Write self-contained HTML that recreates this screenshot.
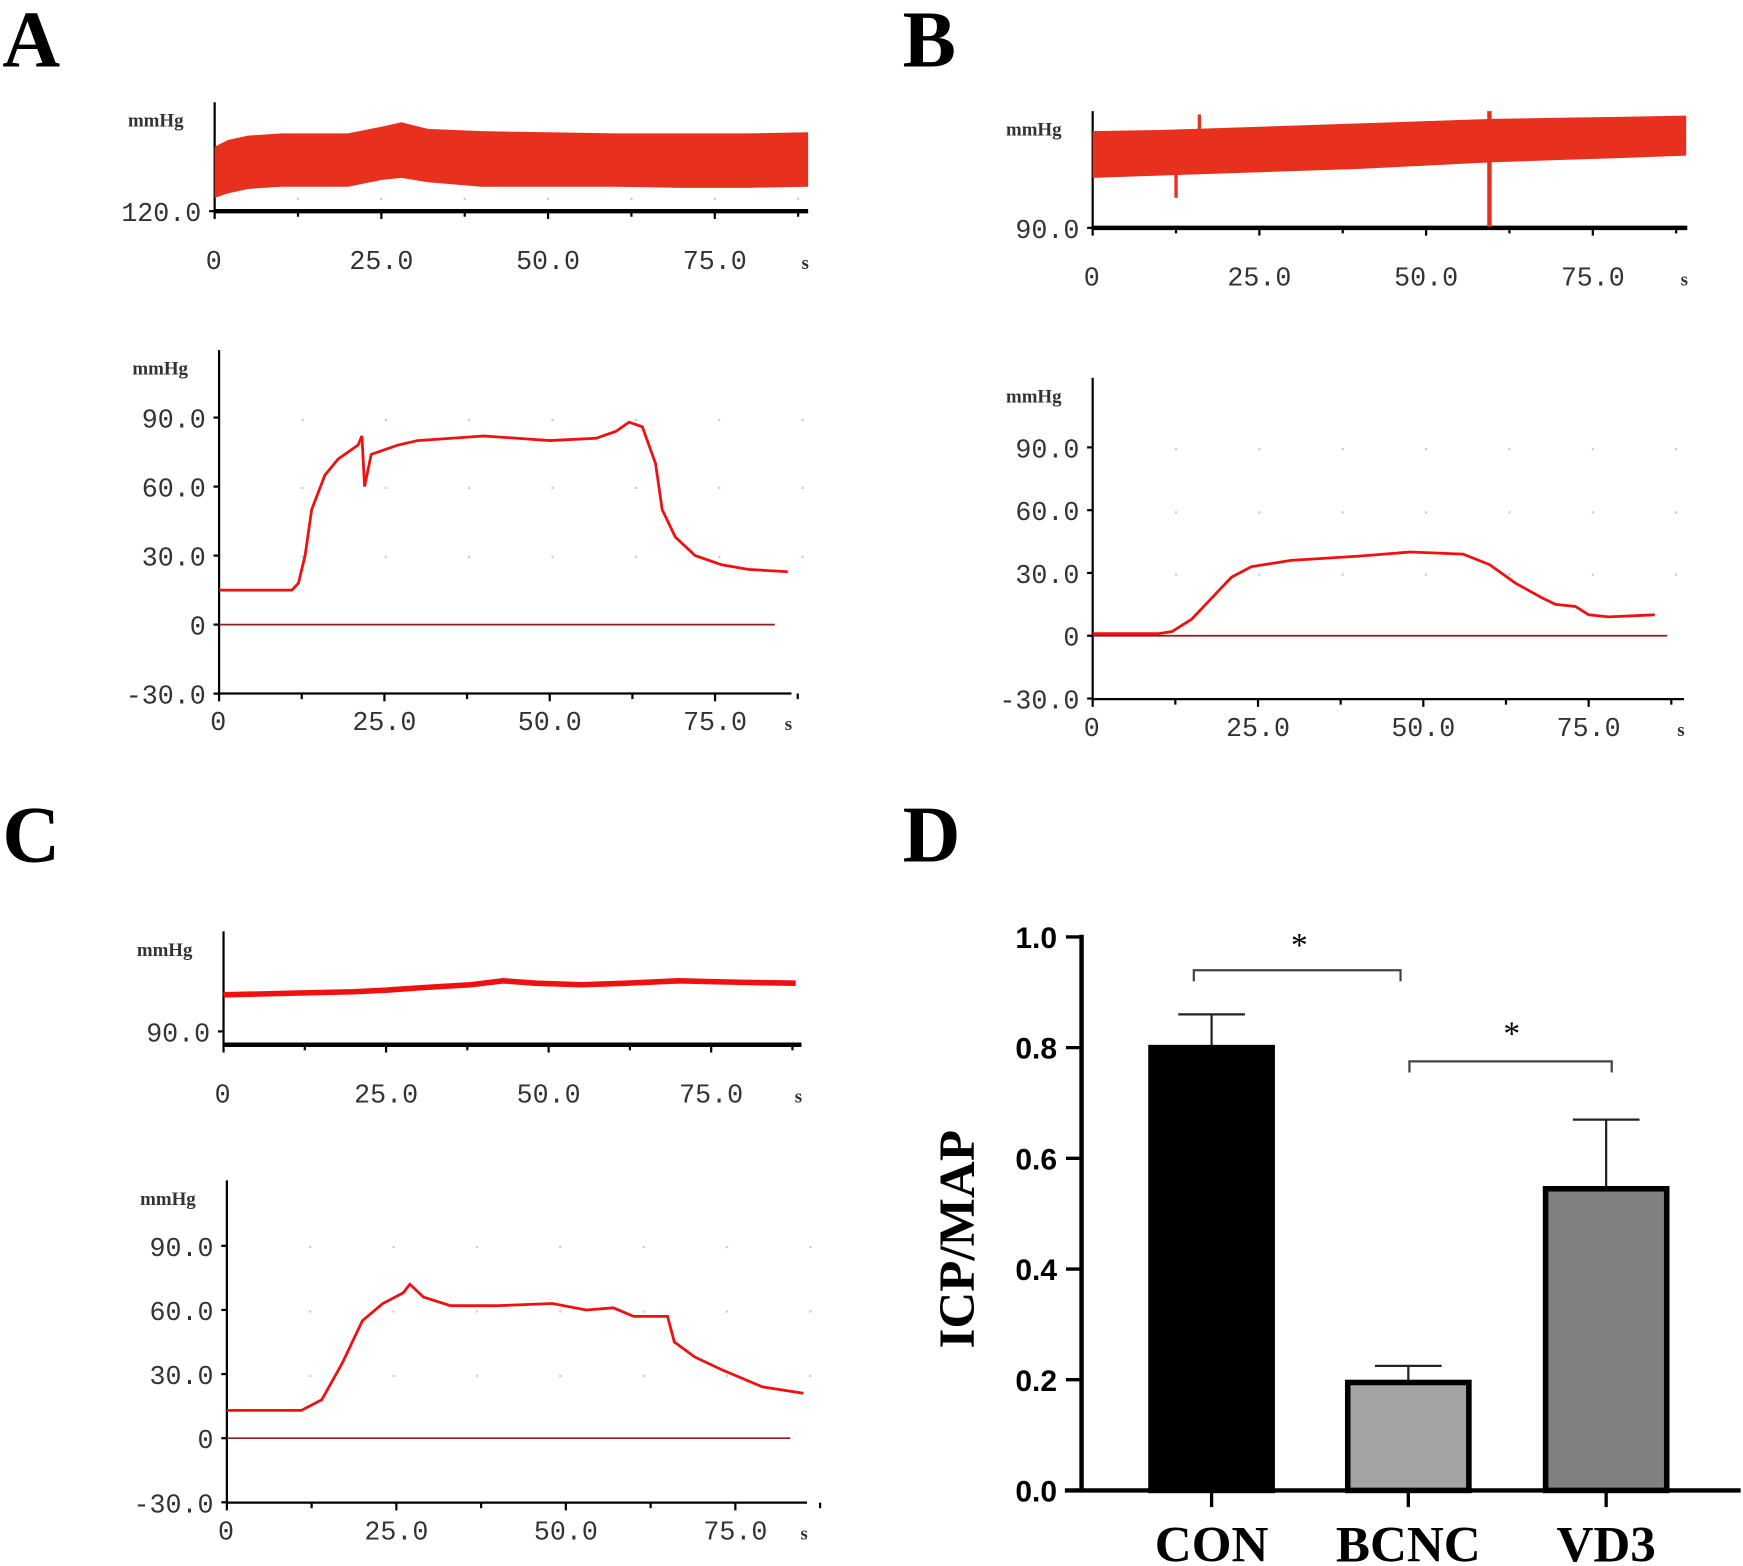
<!DOCTYPE html>
<html><head><meta charset="utf-8"><style>
html,body{margin:0;padding:0;background:#fff}
svg{display:block}
.tk{font-family:"Liberation Mono","Noto Sans CJK SC",monospace;font-size:24px;fill:#333}
.un{font-family:"Liberation Serif",serif;font-size:17px;font-weight:bold;fill:#333}
.pl{font-family:"Liberation Serif",serif;font-size:72px;font-weight:bold;fill:#000}
.db{font-family:"Liberation Sans",sans-serif;font-size:27px;font-weight:bold;fill:#000}
.dx{font-family:"Liberation Serif",serif;font-size:46px;font-weight:bold;fill:#000}
</style></head><body>
<svg id="fig" width="1743" height="1566" viewBox="0 0 1568 1409" xmlns="http://www.w3.org/2000/svg">
<text class="pl" x="2" y="60">A</text>
<text class="pl" x="812" y="60">B</text>
<text class="pl" x="2" y="775">C</text>
<text class="pl" x="812" y="775">D</text>
<g id="layer"></g>
</svg>
<script>
// ---- trace data (time s, mmHg) ----
var aTopT=[0,2,5,10,20,25,28,32,40,50,60,70,80,89];
var aTopHi=[178,184,188,190,190,196,200,194,192,191,190,190,190,191];
var aTopLo=[132,136,140,142,142,148,150,146,142,142,142,141,141,142];
var aBotT=[0,11,12,13,14,16,18,21,21.6,22,23,27,30,40,50,57,60,62,64,66,67,69,72,76,80,86];
var aBotV=[15,15,18,30,50,65,72,78,82,60,74,78,80,82,80,81,84,88,86,70,50,38,30,26,24,23];
var bTopT=[0,10,20,30,40,50,60,70,80,89];
var bTopHi=[177,178,180,182,184,186,188,189,190,191];
var bTopLo=[135,137,139,141,143,146,149,151,153,155];
var bBotT=[0,10,12,15,18,21,24,30,40,48,56,60,64,68,70,73,75,78,85];
var bBotV=[1,1,2,8,18,28,33,36,38,40,39,34,25,18,15,14,10,9,10];
var cTopT=[0,10,20,25,30,38,43,48,55,62,70,75,80,88];
var cTopV=[137,139,141,143,146,150,155,152,150,152,155,154,153,152];
var cBotT=[0,11,14,17,20,23,26,27,29,33,40,48,53,57,60,65,66,69,73,79,85];
var cBotV=[13,13,18,35,55,63,68,72,66,62,62,63,60,61,57,57,45,38,32,24,21];
// ---- bar chart data ----
var dCats=["CON","BCNC","VD3"];
var dVals=[0.80,0.195,0.545];
var dErr=[0.06,0.03,0.125];
var dTicks=[0,0.2,0.4,0.6,0.8,1.0];
var dTickLabels=["0.0","0.2","0.4","0.6","0.8","1.0"];

var NS="http://www.w3.org/2000/svg", L=document.getElementById('layer');
function mk(tag,at,parent){var e=document.createElementNS(NS,tag);for(var k in at)e.setAttribute(k,at[k]);(parent||L).appendChild(e);return e;}
function txt(s,x,y,cls,anchor){var e=mk('text',{x:x,y:y,'class':cls,'text-anchor':anchor||'start'});e.textContent=s;return e;}

function panel(o){
  var sx=function(t){return o.x0+(t)*o.pxs;};
  var sy=function(v){return o.y0-(v-o.v0)*o.pyv;};
  var g=mk('g',{});
  
  
  for(var i=1;i<=7;i++)for(var j=0;j<o.gridRows.length;j++){
    mk('rect',{x:o.x0+i*75-1,y:o.gridRows[j],width:2,height:2,fill:'#ccc'},g);
  }
  var ya=mk('line',{x1:o.x0,y1:o.yTop,x2:o.x0,y2:o.yBot,stroke:'#000','stroke-width':2},g);
  
  var xa=mk('line',{x1:o.x0,y1:o.yBot,x2:o.x1,y2:o.yBot,stroke:'#000','stroke-width':o.top?4:2},g);
  
  for(var t=0;t<=87.5;t+=12.5){mk('line',{x1:sx(t),y1:o.yBot,x2:sx(t),y2:o.yBot+(t%25==0?7:5),stroke:'#000','stroke-width':2},g);}
  var xl=["0","25.0","50.0","75.0"];
  for(var k=0;k<4;k++){var e=txt(xl[k],sx(k*25)-(k==0?8:0),o.yBot+(o.top?52:33),'tk',k==0?'start':'middle');}
  txt('s',o.x1-6,o.yBot+(o.top?52:33),'un');
  var u=txt('mmHg',o.x0-78,o.yTop+22,'un');
  for(var k=0;k<o.yTicks.length;k++){var yy=sy(o.yTicks[k]);
    mk('line',{x1:o.x0-5,y1:yy,x2:o.x0,y2:yy,stroke:'#000','stroke-width':2},g);
    var e=txt(o.yLabels[k],o.x0-12,yy+9,'tk','end');}
  if(o.zero){var z=mk('line',{x1:o.x0,y1:sy(0),x2:o.x1-15,y2:sy(0),stroke:'#8b2020','stroke-width':1.5},g);}
  if(o.hi){
    var pts=[];for(var i=0;i<o.T.length;i++)pts.push(sx(o.T[i])+','+sy(o.hi[i]));
    for(var i=o.T.length-1;i>=0;i--)pts.push(sx(o.T[i])+','+sy(o.lo[i]));
    var p=mk('polygon',{points:pts.join(' '),fill:'#e8301f'},g);
    
  } else {
    var pts=[];for(var i=0;i<o.T.length;i++)pts.push(sx(o.T[i])+','+sy(o.V[i]));
    var p=mk('polyline',{points:pts.join(' '),fill:'none',stroke:'#f01010','stroke-width':o.top?5:2.5},g);
    
  }
  return {sx:sx,sy:sy,g:g};
}
panel({name:'panel-a-map',top:1,x0:193,x1:727,pxs:6,yTop:92,yBot:190,y0:190,v0:120,pyv:1,yTicks:[120],yLabels:['120.0'],gridRows:[178],T:aTopT,hi:aTopHi,lo:aTopLo});
panel({name:'panel-a-icp',x0:197,x1:712,pxs:5.95,yTop:315,yBot:624,y0:562,v0:0,pyv:2.07,yTicks:[90,60,30,0,-30],yLabels:['90.0','60.0','30.0','0','-30.0'],gridRows:[377,438,500],zero:1,T:aBotT,V:aBotV});
var pb=panel({name:'panel-b-map',top:1,x0:983,x1:1518,pxs:6,yTop:100,yBot:205,y0:205,v0:90,pyv:1,yTicks:[90],yLabels:['90.0'],gridRows:[],T:bTopT,hi:bTopHi,lo:bTopLo});
mk('line',{x1:pb.sx(12.5),y1:150,x2:pb.sx(12.5),y2:178,stroke:'#e8301f','stroke-width':3},pb.g);
mk('line',{x1:pb.sx(16),y1:103,x2:pb.sx(16),y2:140,stroke:'#e8301f','stroke-width':3},pb.g);
mk('line',{x1:pb.sx(59.5),y1:100,x2:pb.sx(59.5),y2:204,stroke:'#e8301f','stroke-width':4},pb.g);
panel({name:'panel-b-icp',x0:983,x1:1515,pxs:5.95,yTop:340,yBot:629,y0:572,v0:0,pyv:1.883,yTicks:[90,60,30,0,-30],yLabels:['90.0','60.0','30.0','0','-30.0'],gridRows:[403,460,516],zero:1,T:bBotT,V:bBotV});
panel({name:'panel-c-map',top:1,x0:201,x1:721,pxs:5.85,yTop:838,yBot:940,y0:928,v0:90,pyv:0.7,yTicks:[90],yLabels:['90.0'],gridRows:[],T:cTopT,V:cTopV});
panel({name:'panel-c-icp',x0:204,x1:726,pxs:6.1,yTop:1062,yBot:1352,y0:1294,v0:0,pyv:1.923,yTicks:[90,60,30,0,-30],yLabels:['90.0','60.0','30.0','0','-30.0'],gridRows:[1121,1179,1237],zero:1,T:cBotT,V:cBotV});

// ---- panel D ----
(function(){
  var g=mk('g',{});
  
  
  var y0=1341,ppu=498,ax=973;
  var sy=function(v){return y0-v*ppu;};
  var cx=[1090,1267,1445],w=114,fills=['#000','#a3a3a6','#808080'];
  for(var i=0;i<dCats.length;i++){
    var eb=mk('line',{x1:cx[i],y1:sy(dVals[i]),x2:cx[i],y2:sy(dVals[i]+dErr[i]),stroke:'#222','stroke-width':2},g);
    
    mk('line',{x1:cx[i]-30,y1:sy(dVals[i]+dErr[i]),x2:cx[i]+30,y2:sy(dVals[i]+dErr[i]),stroke:'#222','stroke-width':2},g);
    var r=mk('rect',{x:cx[i]-w/2+2.5,y:sy(dVals[i]),width:w-5,height:y0-sy(dVals[i]),fill:fills[i],stroke:'#000','stroke-width':5},g);
    
    mk('line',{x1:cx[i],y1:y0,x2:cx[i],y2:y0+15,stroke:'#000','stroke-width':3},g);
    var t=txt(dCats[i],cx[i],1405,'dx','middle');
  }
  var ya=mk('line',{x1:ax,y1:sy(1)-2,x2:ax,y2:y0,stroke:'#000','stroke-width':4},g);
  
  var xa=mk('line',{x1:958,y1:y0,x2:1566,y2:y0,stroke:'#000','stroke-width':4},g);
  
  for(var k=0;k<dTicks.length;k++){
    mk('line',{x1:ax-14,y1:sy(dTicks[k]),x2:ax,y2:sy(dTicks[k]),stroke:'#000','stroke-width':3},g);
    var t=txt(dTickLabels[k],ax-22,sy(dTicks[k])+10,'db','end');
  }
  var yl=txt('ICP/MAP',0,0,'dx','middle');yl.setAttribute('transform','translate(876,1115) rotate(-90)');
  
  function br(x1,x2,y,sx,sy2){var p=mk('path',{d:'M'+x1+' '+(y+10)+'V'+y+'H'+x2+'V'+(y+10),fill:'none',stroke:'#444','stroke-width':2},g);
    
    var s=txt('*',sx,sy2,'dx','middle');s.style.fontSize='30px';s.style.fontWeight='normal';}
  br(1074,1260,873,1169,860);
  br(1268,1450,955,1360,940);
})();
</script>
</body></html>
